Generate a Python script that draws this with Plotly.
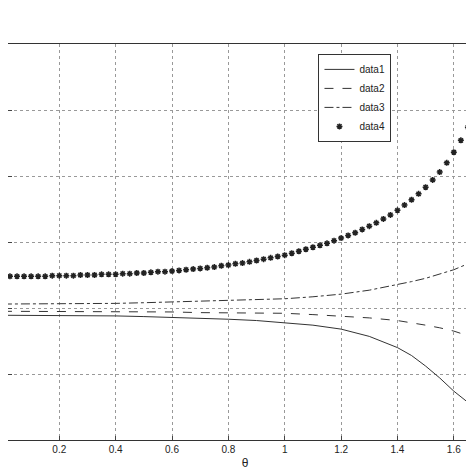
import plotly.graph_objects as go

# line series sampled along theta
theta = [0.0, 0.1, 0.2, 0.3, 0.4, 0.5, 0.6, 0.7, 0.8, 0.9, 1.0, 1.1, 1.2, 1.3,
         1.4, 1.45, 1.5, 1.55, 1.6, 1.65, 1.7]
data1 = [1.89, 1.89, 1.89, 1.88, 1.88, 1.87, 1.86, 1.85, 1.83, 1.81, 1.78, 1.74, 1.68,
         1.57, 1.40, 1.28, 1.12, 0.94, 0.74, 0.57, 0.40]
data2 = [1.95, 1.95, 1.95, 1.95, 1.94, 1.94, 1.94, 1.93, 1.93, 1.92, 1.92, 1.90, 1.88,
         1.85, 1.81, 1.78, 1.74, 1.70, 1.65, 1.58, 1.50]
data3 = [2.06, 2.06, 2.06, 2.07, 2.07, 2.08, 2.09, 2.10, 2.11, 2.12, 2.14, 2.17, 2.21,
         2.27, 2.35, 2.40, 2.45, 2.51, 2.58, 2.67, 2.79]

# star markers
theta4 = [0.025, 0.05, 0.075, 0.1, 0.125, 0.15, 0.175, 0.2, 0.225, 0.25, 0.275, 0.3,
          0.325, 0.35, 0.375, 0.4, 0.425, 0.45, 0.475, 0.5, 0.525, 0.55, 0.575, 0.6,
          0.625, 0.65, 0.675, 0.7, 0.725, 0.75, 0.775, 0.8, 0.825, 0.85, 0.875, 0.9,
          0.925, 0.95, 0.975, 1.0, 1.025, 1.05, 1.075, 1.1, 1.125, 1.15, 1.175, 1.2,
          1.225, 1.25, 1.275, 1.3, 1.325, 1.35, 1.375, 1.4, 1.425, 1.45, 1.475, 1.5,
          1.525, 1.55, 1.575, 1.6, 1.625, 1.65, 1.675, 1.69]
data4 = [2.48, 2.48, 2.48, 2.48, 2.48, 2.48, 2.49, 2.49, 2.49, 2.49, 2.50, 2.50,
         2.50, 2.51, 2.51, 2.51, 2.52, 2.52, 2.53, 2.53, 2.54, 2.55, 2.55, 2.56,
         2.57, 2.58, 2.59, 2.60, 2.61, 2.62, 2.64, 2.65, 2.67, 2.68, 2.70, 2.72,
         2.74, 2.76, 2.78, 2.80, 2.83, 2.86, 2.89, 2.92, 2.95, 2.98, 3.02, 3.06,
         3.10, 3.14, 3.19, 3.24, 3.29, 3.35, 3.41, 3.48, 3.56, 3.64, 3.73, 3.83,
         3.94, 4.06, 4.20, 4.36, 4.54, 4.74, 4.98, 5.20]

x_ticks = [0.2, 0.4, 0.6, 0.8, 1, 1.2, 1.4, 1.6]

fig = go.Figure()
fig.add_trace(go.Scatter(x=theta, y=data1, mode="lines", name="data1",
                         line=dict(color="#333", width=1)))
fig.add_trace(go.Scatter(x=theta, y=data2, mode="lines", name="data2",
                         line=dict(color="#333", width=1, dash="dash")))
fig.add_trace(go.Scatter(x=theta, y=data3, mode="lines", name="data3",
                         line=dict(color="#333", width=1, dash="dashdot")))
fig.add_trace(go.Scatter(x=theta4, y=data4, mode="markers", name="data4",
                         marker=dict(symbol="asterisk-open", size=5, color="#222",
                                     line=dict(width=1.5, color="#222"))))

fig.update_layout(
    width=474, height=474, plot_bgcolor="white", paper_bgcolor="white",
    margin=dict(l=0, r=0, t=36, b=42, autoexpand=False),
    font=dict(family="Liberation Sans, Arial", size=10, color="#222"),
    legend=dict(x=0.655, y=0.975, xanchor="left", yanchor="top",
                bordercolor="#333", borderwidth=1, bgcolor="white",
                font=dict(size=10), tracegroupgap=0, itemwidth=30),
    xaxis=dict(range=[0.018, 1.70], tickvals=x_ticks, ticktext=[str(t) for t in x_ticks],
               showgrid=True, gridcolor="#999", griddash="dot", gridwidth=1,
               showline=True, linecolor="#333", mirror=True, ticks="inside",
               ticklen=4, zeroline=False,
               title=dict(text="θ", standoff=4)),
    yaxis=dict(range=[0, 6], dtick=1, showticklabels=False,
               showgrid=True, gridcolor="#999", griddash="dot", gridwidth=1,
               showline=True, linecolor="#333", mirror=True, ticks="inside",
               ticklen=4, zeroline=False),
)

fig.write_html("out.html")
